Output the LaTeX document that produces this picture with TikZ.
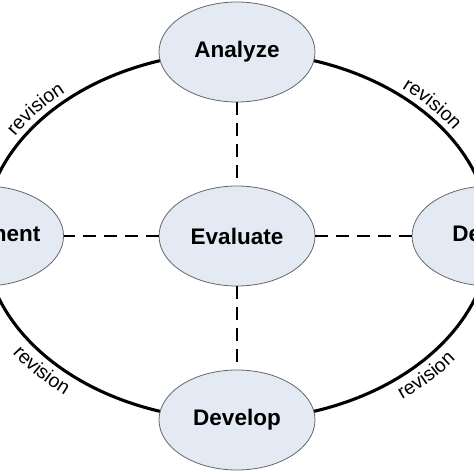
\documentclass[tikz,border=0pt]{standalone}
\usepackage{fontspec}
\setmainfont{Liberation Sans}
\usetikzlibrary{shapes.geometric,decorations.text,calc}
\definecolor{nodefill}{HTML}{E3EAF4}
\definecolor{nodeline}{HTML}{666666}
\newcommand\revfont{\fontsize{19.5}{20}\selectfont}
\begin{document}
\begin{tikzpicture}[x=1pt,y=1pt,
  phase/.style={ellipse, draw=nodeline, line width=0.8pt, fill=nodefill,
    minimum width=156pt, minimum height=100pt, inner sep=0pt,
    font=\fontsize{22.5}{24}\selectfont\bfseries},
  cyclearc/.style={line width=3.1pt},
  link/.style={line width=1.8pt, dash pattern=on 13pt off 8pt},
  revlabel/.style={decorate, decoration={text along path, text align=center,
    text={|\revfont|revision}}}
]
\useasboundingbox (0,0) rectangle (474,474);
\clip (0,0) rectangle (474,474);
\coordinate (C) at (237,238);
% cycle arcs through node centres
\coordinate (Atop) at (237,422);
\coordinate (Dbot) at (237,54);
\coordinate (Ileft) at (-16,238);
\coordinate (Dright) at (490,238);
\draw[cyclearc] (Atop) arc[start angle=90,end angle=180,x radius=253,y radius=184];
\draw[cyclearc] (Ileft) arc[start angle=180,end angle=270,x radius=253,y radius=184];
\draw[cyclearc] (Dbot) arc[start angle=270,end angle=360,x radius=253,y radius=184];
\draw[cyclearc] (Dright) arc[start angle=0,end angle=90,x radius=253,y radius=184];
% nodes
\node[phase] (analyze) at (Atop) {Analyze};
\node[phase] (evaluate) at (C) {Evaluate};
\node[phase] (develop) at (Dbot) {Develop};
\node[phase] (implement) at (Ileft) {Implement};
\node[phase] (design) at (Dright) {Design};
% dashed links
\draw[link] (analyze.south) -- (evaluate.north);
\draw[link] (evaluate.south) -- (develop.north);
\draw[link] (evaluate.west) -- (implement.east);
\draw[link] (evaluate.east) -- (design.west);
% revision labels
\path[revlabel] ($(C)+(163:260 and 191)$) arc[start angle=163,end angle=119,x radius=260,y radius=191];
\path[revlabel] ($(C)+(63:260 and 191)$) arc[start angle=63,end angle=19,x radius=260,y radius=191];
\path[revlabel] ($(C)+(200:274 and 205)$) arc[start angle=200,end angle=244,x radius=274,y radius=205];
\path[revlabel] ($(C)+(294:274 and 205)$) arc[start angle=294,end angle=338,x radius=274,y radius=205];
\end{tikzpicture}
\end{document}
